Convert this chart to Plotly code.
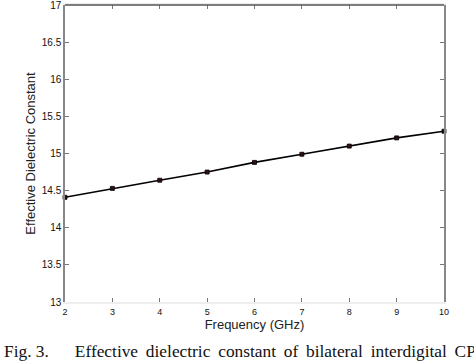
import plotly.graph_objects as go

freq = [2, 3, 4, 5, 6, 7, 8, 9, 10]
eps_eff = [14.41, 14.53, 14.64, 14.75, 14.88, 14.99, 15.10, 15.21, 15.30]
x_ticks = [2, 3, 4, 5, 6, 7, 8, 9, 10]
y_ticks = [13, 13.5, 14, 14.5, 15, 15.5, 16, 16.5, 17]

fig = go.Figure()
fig.add_trace(go.Scatter(
    x=freq, y=eps_eff, mode="lines+markers",
    line=dict(color="black", width=1.6),
    marker=dict(symbol="square", size=4, color="#301010", line=dict(color="black", width=0.8)),
    cliponaxis=False, showlegend=False,
))

axis_common = dict(
    showgrid=False, zeroline=False, showline=True, linewidth=1.5,
    mirror="ticks", ticks="inside", ticklen=4, tickcolor="#777777", tickwidth=1,
    automargin=False, ticklabeloverflow="allow",
)

fig.update_xaxes(range=[2, 10], tickvals=x_ticks, ticktext=[str(v) for v in x_ticks],
                 linecolor="#eeeeee",
                 tickfont=dict(family="Liberation Sans, Arial", size=9, color="#111"),
                 title=dict(text="Frequency (GHz)", font=dict(family="Liberation Sans, Arial", size=13, color="#222"), standoff=1),
                 **axis_common)
fig.update_yaxes(range=[13, 17], tickvals=y_ticks, ticktext=[("%g" % v) for v in y_ticks],
                 linecolor="#888888",
                 tickfont=dict(family="Liberation Sans, Arial", size=10, color="#111"),
                 title=dict(text="Effective Dielectric Constant", font=dict(family="Liberation Sans, Arial", size=13, color="#222"), standoff=3),
                 **axis_common)

# darker top frame line
fig.add_shape(type="line", xref="paper", yref="paper", x0=0, x1=1, y0=1, y1=1,
              line=dict(color="#555555", width=1.5))

sp = " \u2009"
caption_words = ["Effective", "dielectric", "constant", "of", "bilateral", "interdigital", "CPW"]
fig.add_annotation(
    xref="paper", yref="paper", x=-0.167, y=-0.128, xanchor="left", yanchor="top",
    text="Fig.\u00a03.\u00a0\u00a0\u00a0\u00a0\u00a0\u00a0" + sp.join(caption_words),
    showarrow=False, font=dict(family="Liberation Serif, Times New Roman", size=17.35, color="#111"),
)

fig.update_layout(
    width=474, height=361, margin=dict(l=65, r=30, t=5, b=59),
    plot_bgcolor="white", paper_bgcolor="white",
)
fig.write_html("out.html", config={"displayModeBar": False},
               post_script="document.body.style.margin='0';document.body.style.overflow='hidden';")
